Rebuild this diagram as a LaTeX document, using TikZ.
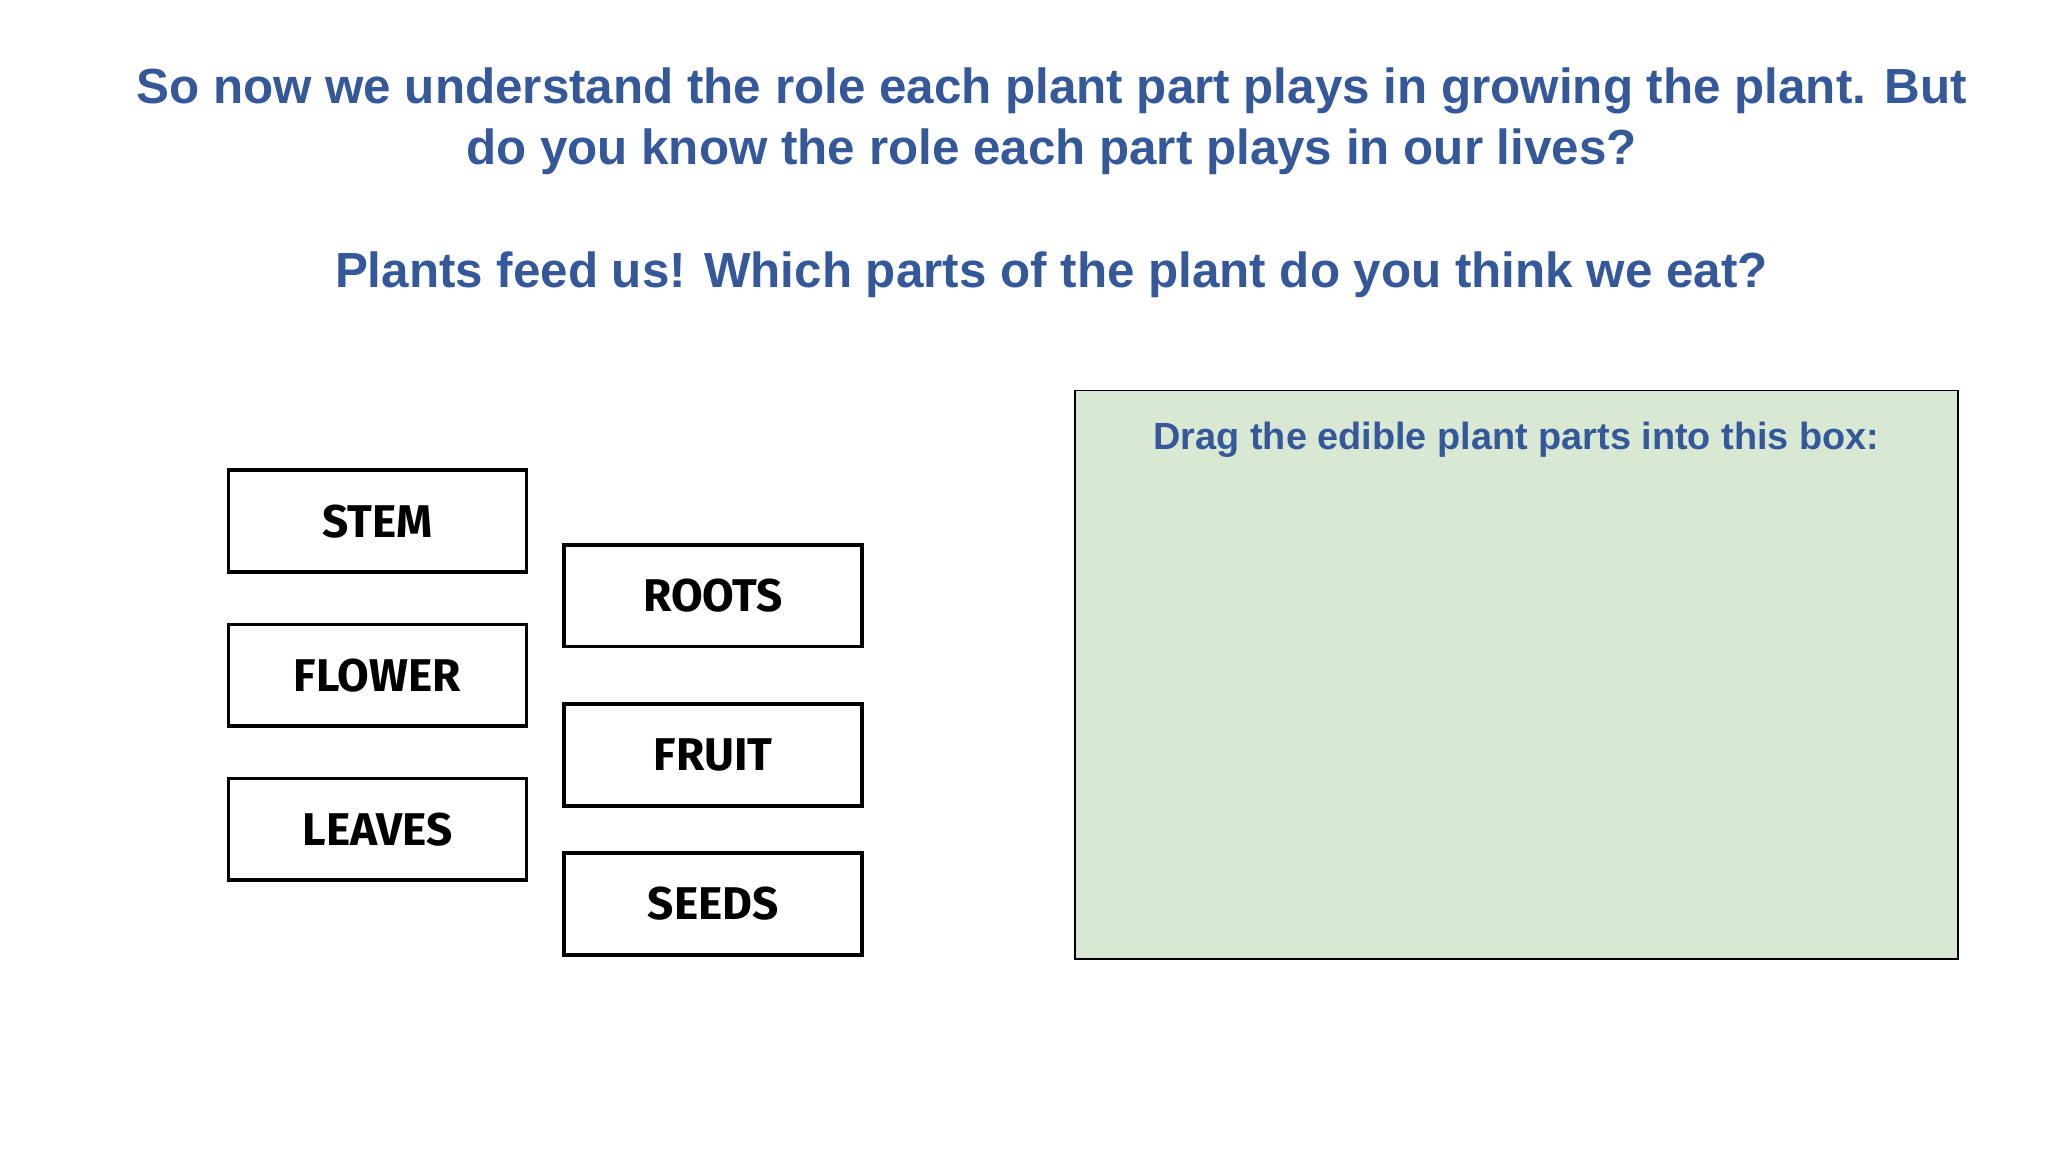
\documentclass[tikz,border=0pt]{standalone}
\usepackage{fontspec}
\setmainfont{Liberation Sans}
\newfontfamily\labfont{Fira Sans}
\definecolor{tblue}{HTML}{34589A}
\definecolor{pgreen}{HTML}{D9E8D3}
\begin{document}
\begin{tikzpicture}[x=0.02cm,y=-0.02cm,
  part/.style={draw=black,line width=1.6pt,minimum width=4.56cm,minimum height=1.56cm,font=\labfont\fontsize{20}{24}\selectfont\bfseries,inner sep=0pt},
  ttl/.style={text=tblue,font=\fontsize{21.5}{26.7}\selectfont\bfseries,align=center}]
\useasboundingbox (0,0) rectangle (1568,882);
\fill[white] (0,0) rectangle (1568,882);
\node[ttl] (t1) at (805,93) {So now we understand the role each plant part plays in growing the plant. But\\do you know the role each part plays in our lives?};
\node[ttl] (t2) at (805,210) {Plants feed us! Which parts of the plant do you think we eat?};
\node[part] (stem) at (289,399) {STEM};
\node[part] (flower) at (289,517) {FLOWER};
\node[part] (leaves) at (289,635) {LEAVES};
\node[part] (roots) at (546,456) {ROOTS};
\node[part] (fruit) at (546,578) {FRUIT};
\node[part] (seeds) at (546,692) {SEEDS};
\draw[fill=pgreen,line width=0.8pt] (823,299) rectangle (1499,734);
\node[text=tblue,font=\fontsize{16.5}{20}\selectfont\bfseries] (drag) at (1161,337) {Drag the edible plant parts into this box:};
\end{tikzpicture}
\end{document}
